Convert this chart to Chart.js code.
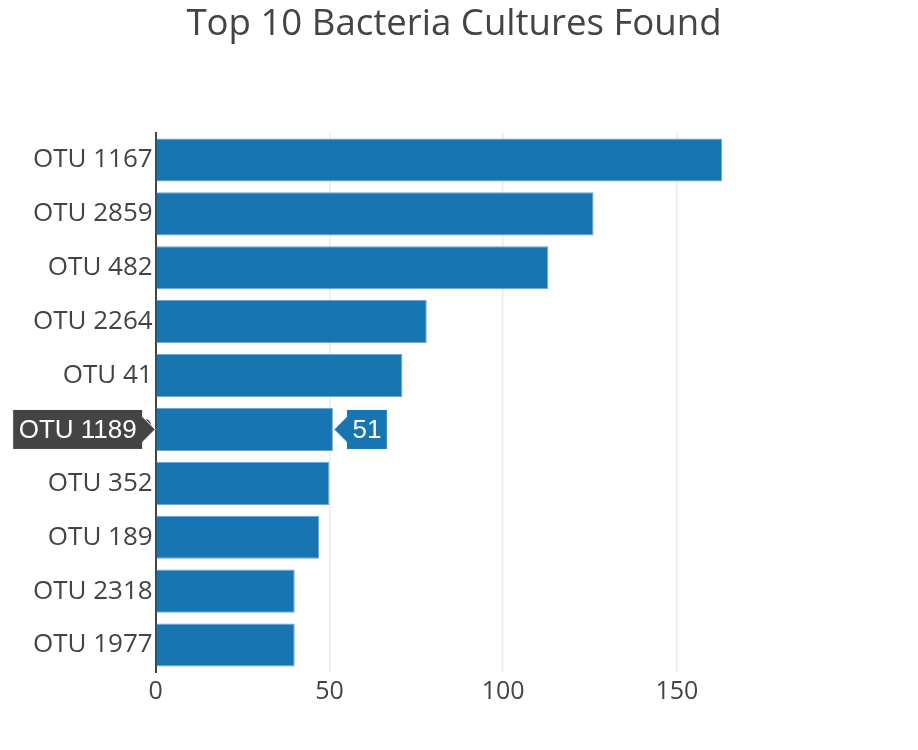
<!DOCTYPE html>
<html>
<head>
<meta charset="utf-8">
<script src="https://cdn.jsdelivr.net/npm/chart.js@4"></script>
<style>
  html, body { margin: 0; padding: 0; background: #fff; }
  #wrap { position: relative; width: 918px; height: 750px; }
  #title { position: absolute; left: 0; top: 0; width: 908px; text-align: center;
           font-family: "Open Sans", sans-serif; font-size: 36.6px; line-height: 42px; color: #444; }
  canvas { position: absolute; left: 0; top: 0; }
</style>
</head>
<body>
<div id="wrap">
  <canvas id="c" width="918" height="750"></canvas>
  <div id="title">Top 10 Bacteria Cultures Found</div>
</div>
<script>
// ---- data ----
const otuLabels = ['OTU 1167', 'OTU 2859', 'OTU 482', 'OTU 2264', 'OTU 41',
                   'OTU 1189', 'OTU 352', 'OTU 189', 'OTU 2318', 'OTU 1977'];
const sampleValues = [163, 126, 113, 78, 71, 51, 50, 47, 40, 40];
const xTickValues = [0, 50, 100, 150];
const hoveredLabel = 'OTU 1189';

const hoverIndex = otuLabels.indexOf(hoveredLabel);
const barColor = 'rgb(23,118,178)';

function hoverPath(ctx, tipX, y, dir, boxW, h, arrow) {
  // dir = -1: box to the left of tip; dir = +1: box to the right of tip
  const edge = tipX + dir * arrow;
  const far = edge + dir * boxW;
  ctx.beginPath();
  ctx.moveTo(tipX, y);
  ctx.lineTo(edge, y - arrow);
  ctx.lineTo(edge, y - h / 2);
  ctx.lineTo(far, y - h / 2);
  ctx.lineTo(far, y + h / 2);
  ctx.lineTo(edge, y + h / 2);
  ctx.lineTo(edge, y + arrow);
  ctx.closePath();
}

const hoverPlugin = {
  id: 'hoverLabels',
  afterDatasetsDraw(chart) {
    const ctx = chart.ctx;
    const meta = chart.getDatasetMeta(0);
    const bar = meta.data[hoverIndex];
    if (!bar) return;
    const xs = chart.scales.x;
    const axisX = xs.getPixelForValue(0);
    const y = bar.y;
    const h = 40, arrow = 12.5, pad = 6;
    ctx.save();
    ctx.font = '26px "Liberation Sans", Arial, sans-serif';
    ctx.textBaseline = 'middle';
    ctx.textAlign = 'center';
    // category label (left)
    const t1 = otuLabels[hoverIndex];
    const w1 = ctx.measureText(t1).width + 2 * pad;
    hoverPath(ctx, axisX - 0.5, y, -1, w1, h, arrow);
    ctx.fillStyle = '#444';
    ctx.fill();
    ctx.strokeStyle = '#fff';
    ctx.lineWidth = 1;
    ctx.stroke();
    ctx.fillStyle = '#fff';
    ctx.fillText(t1, axisX - 0.5 - arrow - w1 / 2, y + 1);
    // value label (right)
    const t2 = String(sampleValues[hoverIndex]);
    const w2 = ctx.measureText(t2).width + 2 * pad;
    const tip = bar.x + 1;
    hoverPath(ctx, tip, y, 1, w2, h, arrow);
    ctx.fillStyle = barColor;
    ctx.fill();
    ctx.strokeStyle = '#fff';
    ctx.stroke();
    ctx.fillStyle = '#fff';
    ctx.fillText(t2, tip + arrow + w2 / 2, y + 1);
    ctx.restore();
  }
};

new Chart(document.getElementById('c'), {
  type: 'bar',
  data: {
    labels: otuLabels,
    datasets: [{
      data: sampleValues,
      backgroundColor: barColor,
      borderColor: 'rgba(110,165,210,1)',
      borderWidth: 1,
      barPercentage: 0.8,
      categoryPercentage: 1.0
    }]
  },
  options: {
    indexAxis: 'y',
    responsive: false,
    animation: false,
    devicePixelRatio: 1,
    layout: { padding: { top: 133, right: 166, bottom: 0, left: 0 } },
    plugins: {
      legend: { display: false },
      title: { display: false },
      tooltip: { enabled: false }
    },
    scales: {
      x: {
        type: 'linear',
        min: 0,
        max: 171.6,
        afterFit(scale) { scale.height = 78; },
        afterBuildTicks(scale) { scale.ticks = xTickValues.map(v => ({ value: v })); },
        grid: { color: '#ebebeb', lineWidth: 1.5, drawTicks: false },
        border: { display: false },
        ticks: {
          padding: 5,
          color: '#444',
          font: { family: '"Open Sans", sans-serif', size: 25 }
        }
      },
      y: {
        type: 'category',
        afterFit(scale) { scale.width = 155.7; },
        grid: { display: false, drawTicks: false },
        border: { display: true, color: '#444', width: 2 },
        ticks: {
          padding: 3,
          color: '#444',
          font: { family: '"Open Sans", sans-serif', size: 26 }
        }
      }
    }
  },
  plugins: [hoverPlugin]
});
</script>
</body>
</html>
